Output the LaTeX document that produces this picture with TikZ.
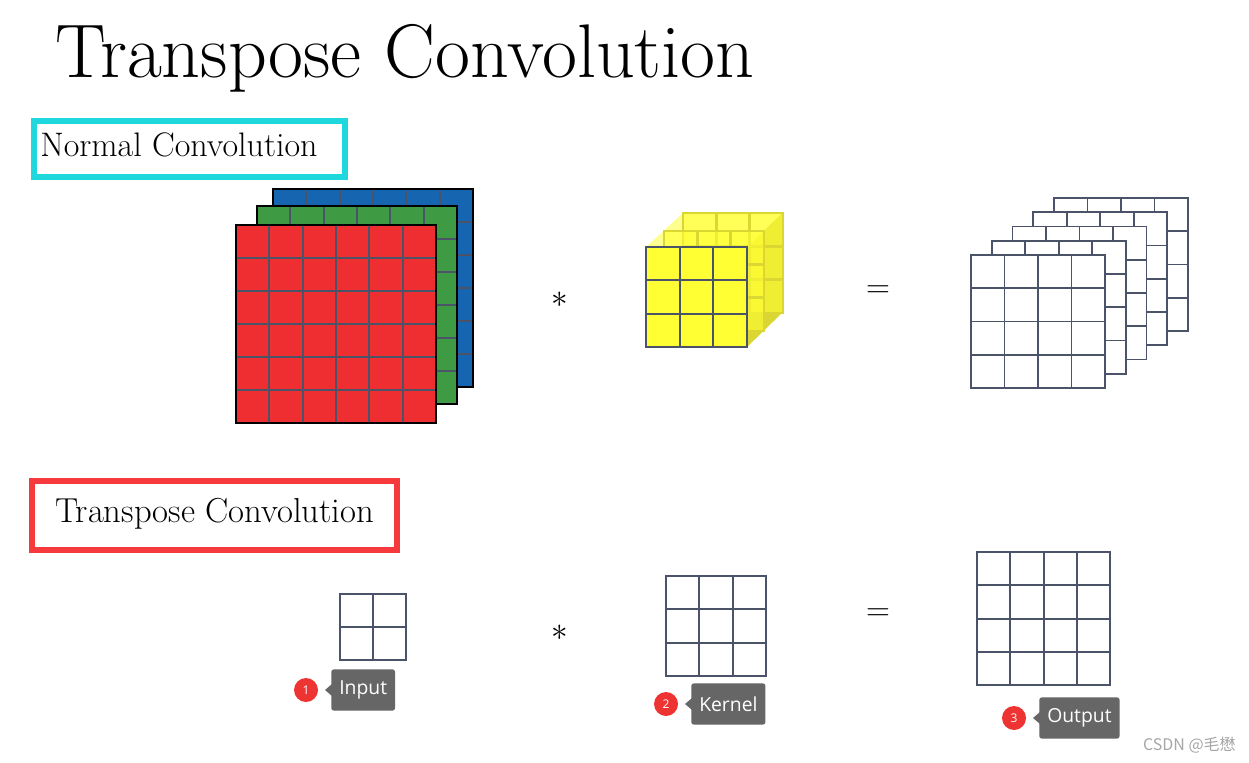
\documentclass[tikz,border=0pt]{standalone}
\usepackage{fontspec}
\newfontfamily\lblfont{Open Sans}
\newfontfamily\cjk{Noto Sans CJK SC}
\begin{document}
\begin{tikzpicture}[x=0.75pt,y=-0.75pt,
  lbl/.style={fill=lblgray,rounded corners=2pt,text=white,font=\lblfont\fontsize{14.5}{14.5}\selectfont,inner xsep=6pt,inner ysep=0pt,minimum height=31pt,anchor=west},
  num/.style={circle,fill=numred,text=white,inner sep=0pt,minimum size=18pt,font=\lblfont\fontsize{9}{9}\selectfont},
  op/.style={font=\fontsize{30}{30}\selectfont}]
\definecolor{gridc}{HTML}{4A5368}
\definecolor{lblgray}{HTML}{666666}
\definecolor{numred}{HTML}{EE3333}
\definecolor{cyanb}{HTML}{1ED8DD}
\definecolor{redb}{HTML}{F5393C}
\definecolor{cred}{HTML}{EE2E31}
\definecolor{cgreen}{HTML}{3E9B43}
\definecolor{cblue}{HTML}{1565B0}
\definecolor{yel}{HTML}{FFFF33}
\definecolor{yside}{HTML}{DAD632}
\useasboundingbox (0,0) rectangle (1249,763);
\node[anchor=base west,inner sep=0pt,font=\fontsize{57}{57}\selectfont] (title) at (55,78) {Transpose Convolution};
\node[draw=cyanb,line width=4.5pt,minimum width=233pt,minimum height=42pt,anchor=north west,inner sep=0pt] (nbox) at (31,118) {};
\node[anchor=west,font=\fontsize{25.5}{25.5}\selectfont,inner sep=0pt] (ntxt) at (40,145) {Normal Convolution};
\node[draw=redb,line width=4.5pt,minimum width=274pt,minimum height=52pt,anchor=north west,inner sep=0pt] (tbox) at (29,478) {};
\node[anchor=west,font=\fontsize{26}{26}\selectfont,inner sep=0pt] (ttxt) at (55,514) {Transpose Convolution};
% input stack
\foreach \x/\y/\c in {273/189/cblue,257/206/cgreen,236/225/cred}{
  \fill[\c] (\x,\y) rectangle ++(200,198);
  \foreach \i in {1,...,5}{\draw[gridc,line width=1.5pt] (\x+\i*33.3,\y)--++(0,198); \draw[gridc,line width=1.5pt] (\x,\y+\i*33)--++(200,0);}
  \draw[black,line width=1.5pt] (\x,\y) rectangle ++(200,198);
}
\node[op] (star1) at (560,300) {$\mathbf{*}$};
% yellow cube
\fill[yside] (747,247)--(782,213)--(782,313)--(747,347)--cycle;
\fill[yel!55] (646,247)--(683,213)--(782,213)--(747,247)--cycle;
\foreach \x/\y in {683/213,664/231}{
  \fill[yel,opacity=0.6] (\x,\y) rectangle ++(100,100);
  \foreach \i in {1,2}{\draw[yside,line width=1.8pt] (\x+\i*33.3,\y)--++(0,100); \draw[yside,line width=1.8pt] (\x,\y+\i*33.3)--++(100,0);}
  \draw[yside,line width=1.8pt] (\x,\y) rectangle ++(100,100);
}
\fill[yel] (646,247) rectangle ++(101,100);
\foreach \i in {1,2}{\draw[gridc,line width=1.5pt] (646+\i*33.7,247)--++(0,100); \draw[gridc,line width=1.5pt] (646,247+\i*33.3)--++(101,0);}
\draw[gridc,line width=1.6pt] (646,247) rectangle ++(101,100);
\node[op] (eq1) at (878,292) {$=$};
% output stack
\foreach \k in {4,3,2,1,0}{
  \fill[white] (971+\k*20.75,255-\k*14.25) rectangle ++(134,133);
  \foreach \i in {1,2,3}{\draw[gridc,line width=1.4pt] (971+\k*20.75+\i*33.5,255-\k*14.25)--++(0,133); \draw[gridc,line width=1.4pt] (971+\k*20.75,255-\k*14.25+\i*33.25)--++(134,0);}
  \draw[gridc,line width=1.4pt] (971+\k*20.75,255-\k*14.25) rectangle ++(134,133);
}
% bottom
\draw[gridc,line width=1.5pt] (340,594) rectangle (406,660) (373,594)--(373,660) (340,627)--(406,627);
\node[op] (star2) at (560,633) {$\mathbf{*}$};
\draw[gridc,line width=1.5pt] (666,576) rectangle (766,676);
\foreach \i in {1,2}{\draw[gridc,line width=1.5pt] (666+\i*33.3,576)--++(0,100); \draw[gridc,line width=1.5pt] (666,576+\i*33.3)--++(100,0);}
\node[op] (eq2) at (878,615) {$=$};
\draw[gridc,line width=1.5pt] (977,552) rectangle (1110,685);
\foreach \i in {1,2,3}{\draw[gridc,line width=1.5pt] (977+\i*33.25,552)--++(0,133); \draw[gridc,line width=1.5pt] (977,552+\i*33.25)--++(133,0);}
% labels
\foreach \n/\t/\x/\y in {1/Input/331/690,2/Kernel/691/704,3/Output/1039/718}{
  \node[lbl] (l\n) at (\x,\y) {\t};
  \fill[lblgray] (\x+1,\y-6)--(\x-6,\y)--(\x+1,\y+6)--cycle;
  \node[num] (c\n) at (\x-25,\y) {\n};
}
\node[anchor=east,text=gray!70,font=\cjk\fontsize{12}{12}\selectfont,inner sep=0pt] (wm) at (1236,745) {CSDN @毛懋};
\end{tikzpicture}
\end{document}
